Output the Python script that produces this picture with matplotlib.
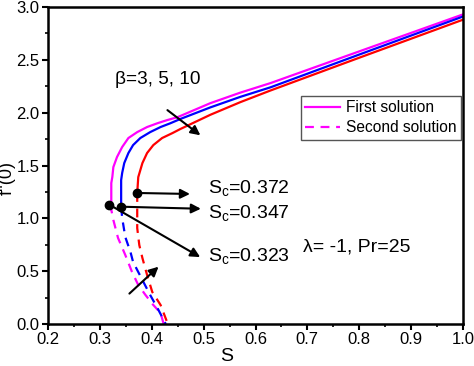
import matplotlib
matplotlib.use('Agg')
import matplotlib.pyplot as plt
from matplotlib.lines import Line2D

plt.rcParams['font.family'] = ['Liberation Sans', 'DejaVu Sans']
plt.rcParams['mathtext.default'] = 'regular'

# first solution (upper branch)
s1_mag = [0.322, 0.322, 0.324, 0.326, 0.333, 0.343, 0.355, 0.372, 0.391, 0.411,
          0.430, 0.450, 0.513, 0.571, 0.629, 0.80, 1.0]
f1_mag = [1.145, 1.334, 1.391, 1.485, 1.58, 1.675, 1.76, 1.816, 1.864, 1.90,
          1.93, 1.958, 2.09, 2.19, 2.28, 2.58, 2.93]
s1_blu = [0.341, 0.341, 0.343, 0.347, 0.355, 0.364, 0.378, 0.397, 0.417, 0.436,
          0.455, 0.513, 0.571, 0.629, 0.80, 1.0]
f1_blu = [1.107, 1.362, 1.43, 1.523, 1.618, 1.693, 1.76, 1.816, 1.864, 1.90,
          1.94, 2.05, 2.15, 2.24, 2.55, 2.91]
s1_red = [0.372, 0.374, 0.382, 0.391, 0.403, 0.420, 0.440, 0.455, 0.513, 0.571,
          0.629, 0.80, 1.0]
f1_red = [1.24, 1.39, 1.523, 1.618, 1.693, 1.76, 1.807, 1.845, 1.98, 2.10,
          2.21, 2.52, 2.88]

# second solution (lower branch)
s2_mag = [0.320, 0.326, 0.335, 0.349, 0.362, 0.374, 0.388, 0.403, 0.417, 0.423]
f2_mag = [1.13, 0.984, 0.814, 0.653, 0.492, 0.369, 0.274, 0.18, 0.104, 0.0]
s2_blu = [0.341, 0.343, 0.349, 0.359, 0.364, 0.382, 0.397, 0.411, 0.427]
f2_blu = [1.107, 1.003, 0.823, 0.681, 0.587, 0.416, 0.274, 0.151, 0.0]
s2_red = [0.372, 0.372, 0.372, 0.376, 0.382, 0.391, 0.401, 0.417, 0.431]
f2_red = [1.24, 1.097, 0.908, 0.747, 0.624, 0.464, 0.303, 0.18, 0.0]

# critical points
sc = [0.318, 0.341, 0.372]
fc = [1.13, 1.11, 1.24]

fig = plt.figure(figsize=(4.74, 3.66), dpi=100)
ax = fig.add_axes([48/474, 1 - 324/366, 415/474, 317/366])

lw = 1.6
ax.plot(s1_mag, f1_mag, color='#ff00ff', lw=lw)
ax.plot(s1_blu, f1_blu, color='#0000ff', lw=lw)
ax.plot(s1_red, f1_red, color='#ff0000', lw=lw)
ax.plot(s2_mag, f2_mag, color='#ff00ff', lw=lw, dashes=(4, 3))
ax.plot(s2_blu, f2_blu, color='#0000ff', lw=lw, dashes=(4, 3))
ax.plot(s2_red, f2_red, color='#ff0000', lw=lw, dashes=(4, 3))
ax.plot(sc, fc, 'o', color='black', ms=6, zorder=5)

ax.set_xlim(0.2, 1.0)
ax.set_ylim(0.0, 3.0)
ax.set_xticks([0.2, 0.3, 0.4, 0.5, 0.6, 0.7, 0.8, 0.9, 1.0])
ax.set_yticks([0.0, 0.5, 1.0, 1.5, 2.0, 2.5, 3.0])
ax.set_xticks([0.25, 0.35, 0.45, 0.55, 0.65, 0.75, 0.85, 0.95], minor=True)
ax.set_yticks([0.25, 0.75, 1.25, 1.75, 2.25, 2.75], minor=True)
ax.tick_params(which='major', direction='out', length=4, width=1.5, labelsize=12, pad=2)
ax.tick_params(which='minor', direction='out', length=2.5, width=1.2)
for sp in ax.spines.values():
    sp.set_linewidth(1.8)

ax.set_xlabel('S', fontsize=14)
ax.xaxis.set_label_coords(0.43, -0.076)
ax.set_ylabel("f''(0)", fontsize=13)
ax.yaxis.set_label_coords(-0.078, 0.46)

arr = dict(arrowstyle='-|>', color='black', lw=1.5, mutation_scale=14)
ax.annotate('', xy=(0.498, 1.77), xytext=(0.426, 2.04), arrowprops=arr)
ax.text(0.33, 2.31, '\u03b2=3, 5, 10', fontsize=13.7, va='center')

ax.annotate('', xy=(0.479, 1.23), xytext=(0.372, 1.24), arrowprops=arr)
ax.annotate('', xy=(0.500, 1.09), xytext=(0.341, 1.11), arrowprops=arr)
ax.annotate('', xy=(0.498, 0.62), xytext=(0.318, 1.13), arrowprops=arr)
ax.annotate('', xy=(0.417, 0.56), xytext=(0.353, 0.27), arrowprops=arr)

ax.text(0.508, 1.29, 'S$_c$=0.372', fontsize=14, va='center')
ax.text(0.508, 1.05, 'S$_c$=0.347', fontsize=14, va='center')
ax.text(0.508, 0.64, 'S$_c$=0.323', fontsize=14, va='center')
ax.text(0.692, 0.73, '\u03bb= -1, Pr=25', fontsize=14, va='center')

handles = [Line2D([], [], color='#ff00ff', lw=lw),
           Line2D([], [], color='#ff00ff', lw=lw, dashes=(4, 3))]
ax.legend(handles, ['First solution', 'Second solution'], loc='upper left',
          bbox_to_anchor=(0.59, 0.745), fontsize=11.2, frameon=True,
          fancybox=False, edgecolor='#555555', framealpha=1,
          handlelength=2.2, handletextpad=0.4, borderpad=0.3, labelspacing=0.3)

fig.savefig('out.png', dpi=100)
